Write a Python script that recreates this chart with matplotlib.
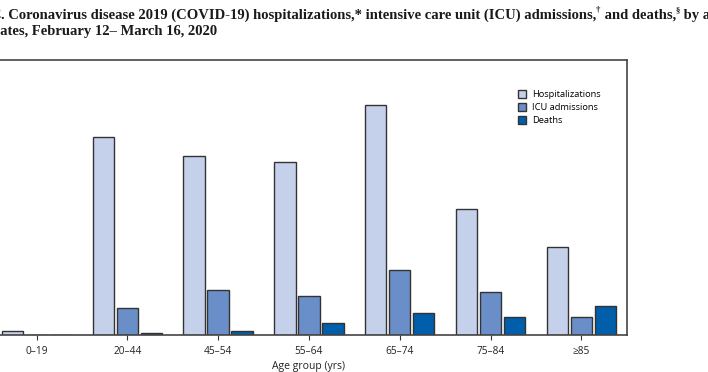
import numpy as np
import matplotlib
matplotlib.use('Agg')
import matplotlib.pyplot as plt

age_groups = ['0–19', '20–44', '45–54', '55–64', '65–74', '75–84', '≥85']
hospitalizations = [2, 101, 91, 88, 117, 64, 45]
icu_admissions = [0, 14, 23, 20, 33, 22, 9]
deaths = [0, 1, 2, 6, 11, 9, 15]

series_names = ['Hospitalizations', 'ICU admissions', 'Deaths']
colors = ['#C5D1EA', '#6A8FC8', '#005EAA']

W, H = 708, 372
fig = plt.figure(figsize=(W / 100, H / 100), dpi=100)

# axes is shifted left so the left spine falls just outside the picture
ax = fig.add_axes([-8.9 / W, 1 - 335 / H, 635.6 / W, 275 / H])

x = np.arange(len(age_groups))
width = 0.235
offset = 0.265
for i, (vals, name) in enumerate(zip([hospitalizations, icu_admissions, deaths], series_names)):
    ax.bar(x + (i - 1) * offset, vals, width, color=colors[i], edgecolor='#333333',
           linewidth=1.0, label=name)

ax.set_xlim(-0.5, len(age_groups) - 0.5)
ax.set_ylim(0, 140)
ax.set_yticks([])
ax.set_xticks(x)
ax.set_xticklabels(age_groups, fontsize=7.3, family='Open Sans', color='#222222')
ax.tick_params(axis='x', direction='out', length=3.6, width=0.8, color='#333333', pad=4)
ax.set_xlabel('Age group (yrs)', fontsize=7.5, family='Open Sans', color='#222222', labelpad=3.2)

for side in ['top', 'right', 'bottom', 'left']:
    ax.spines[side].set_color('#444444')
    ax.spines[side].set_linewidth(1.2)

leg = ax.legend(loc='upper left', bbox_to_anchor=(518 / W, 1 - 90 / H),
                bbox_transform=fig.transFigure, frameon=False, borderpad=0,
                borderaxespad=0, handlelength=0.9, handleheight=0.9,
                handletextpad=0.6, labelspacing=0.42,
                prop={'family': 'Open Sans', 'size': 6.7})

# Title, cut off at both sides like the reference
renderer = fig.canvas.get_renderer()
title_kw = dict(family='Liberation Serif', weight='bold', color='#1a1a1a')


def text_w(s, size):
    t = fig.text(0, 0, s, fontsize=size, **title_kw)
    w = t.get_window_extent(renderer).width
    t.remove()
    return w


def visible_w(size):
    return (text_w('. Coronavirus disease 2019 (COVID-19) hospitalizations,* intensive care unit (ICU) admissions,', size)
            + text_w('†', size * 0.6) + text_w(' and deaths,', size)
            + text_w('§', size * 0.6) + text_w(' by a', size))


size = 9.0 * 707 / visible_w(9.0)

line1 = [('FIGURE 2', 1, 0),
         ('. Coronavirus disease 2019 (COVID-19) hospitalizations,* intensive care unit (ICU) admissions,', 1, 0),
         ('†', 0.6, 0.45), (' and deaths,', 1, 0), ('§', 0.6, 0.45), (' by age group —', 1, 0)]
line2 = [('United States, February 12– March 16, 2020', 1, 0)]


def draw_runs(runs, x0, y):
    xc = x0
    for s, rel, rise in runs:
        t = fig.text(xc / W, 1 - (y - rise * size * 100 / 72) / H, s,
                     fontsize=size * rel, va='baseline', ha='left', **title_kw)
        xc += t.get_window_extent(renderer).width


draw_runs(line1, 1 - text_w('FIGURE 2', size), 18.5)
draw_runs(line2, -text_w('United St', size), 35.2)

fig.savefig('out.png', dpi=100)
